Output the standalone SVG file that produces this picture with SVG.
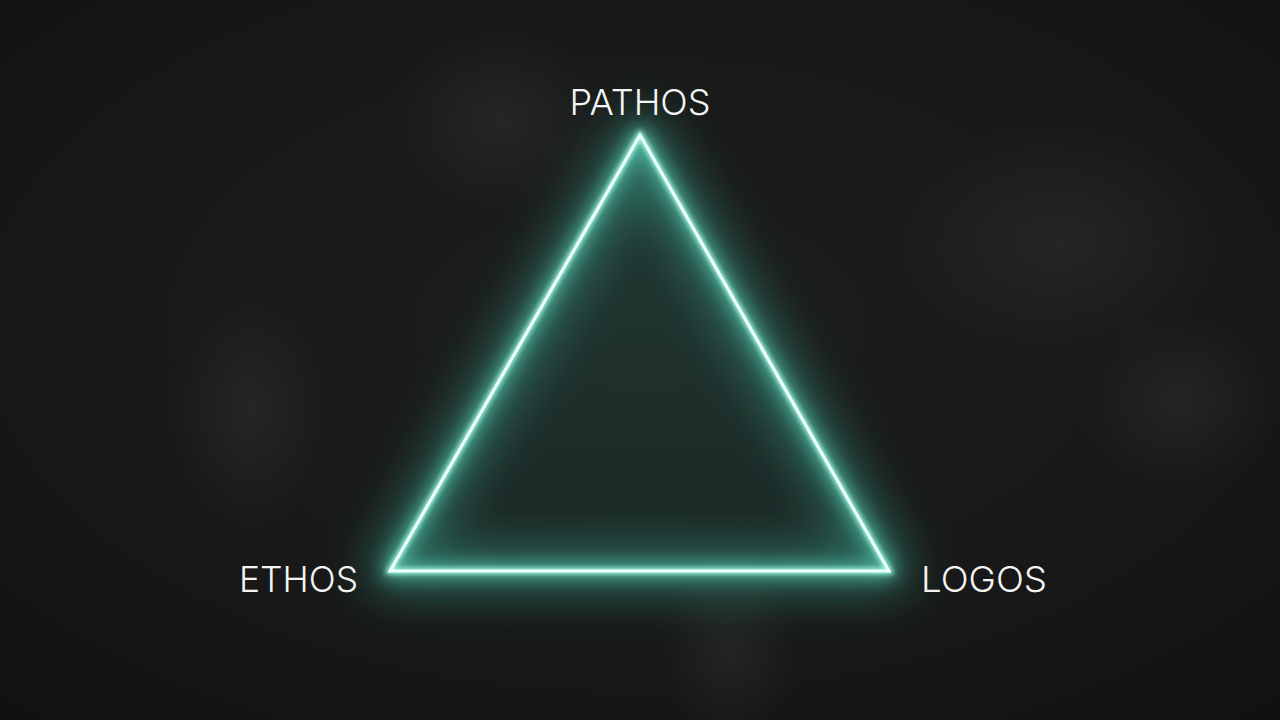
<svg xmlns="http://www.w3.org/2000/svg" width="1280" height="720" viewBox="0 0 1280 720">
  <defs>
    <style>
      .label { font-family: "Inter", "Lato", "Liberation Sans", sans-serif; font-size: 36px; fill: #f4f4f4; font-weight: 300; }
    </style>
    <radialGradient id="bg" cx="50%" cy="45%" r="75%">
      <stop offset="0" stop-color="#1c1f1e"/>
      <stop offset="0.6" stop-color="#171817"/>
      <stop offset="1" stop-color="#111111"/>
    </radialGradient>
    <radialGradient id="puff">
      <stop offset="0" stop-color="#3a3e3c" stop-opacity="0.35"/>
      <stop offset="1" stop-color="#3a3e3c" stop-opacity="0"/>
    </radialGradient>
    <linearGradient id="fillg" x1="0" y1="0" x2="0" y2="1">
      <stop offset="0" stop-color="#2a5a50" stop-opacity="0.45"/>
      <stop offset="1" stop-color="#1f3e38" stop-opacity="0.35"/>
    </linearGradient>
    <filter id="blurBig" filterUnits="userSpaceOnUse" x="0" y="0" width="1280" height="720">
      <feGaussianBlur stdDeviation="24"/>
    </filter>
    <filter id="blurMid" filterUnits="userSpaceOnUse" x="0" y="0" width="1280" height="720">
      <feGaussianBlur stdDeviation="9"/>
    </filter>
    <filter id="blurSmall" filterUnits="userSpaceOnUse" x="0" y="0" width="1280" height="720">
      <feGaussianBlur stdDeviation="2.5"/>
    </filter>
  </defs>

  <rect width="1280" height="720" fill="url(#bg)"/>

  <g id="smoke-layer">
    <ellipse cx="500" cy="120" rx="110" ry="90" fill="url(#puff)"/>
    <ellipse cx="1060" cy="240" rx="170" ry="120" fill="url(#puff)"/>
    <ellipse cx="1180" cy="400" rx="100" ry="90" fill="url(#puff)"/>
    <ellipse cx="250" cy="410" rx="80" ry="120" fill="url(#puff)"/>
    <ellipse cx="730" cy="650" rx="70" ry="90" fill="url(#puff)"/>
  </g>

  <g id="triangle">
    <polygon points="640,135 390,571 889,571" fill="url(#fillg)"/>
    <polygon points="640,135 390,571 889,571" fill="none" stroke="#3fbfa5" stroke-opacity="0.45" stroke-width="44" stroke-linejoin="round" filter="url(#blurBig)"/>
    <polygon points="640,135 390,571 889,571" fill="none" stroke="#5fe0c4" stroke-opacity="0.7" stroke-width="14" stroke-linejoin="round" filter="url(#blurMid)"/>
    <polygon points="640,135 390,571 889,571" fill="none" stroke="#a8fbe8" stroke-width="6" stroke-linejoin="miter" filter="url(#blurSmall)"/>
    <polygon points="640,135 390,571 889,571" fill="none" stroke="#effff9" stroke-width="3" stroke-linejoin="miter"/>
  </g>

  <g id="node-pathos">
    <text class="label" x="640" y="115" text-anchor="middle" textLength="141" lengthAdjust="spacingAndGlyphs">PATHOS</text>
  </g>
  <g id="node-ethos">
    <text class="label" x="239" y="592" textLength="119" lengthAdjust="spacingAndGlyphs">ETHOS</text>
  </g>
  <g id="node-logos">
    <text class="label" x="921" y="592" textLength="126" lengthAdjust="spacingAndGlyphs">LOGOS</text>
  </g>
  <g id="connectors"/>
</svg>
